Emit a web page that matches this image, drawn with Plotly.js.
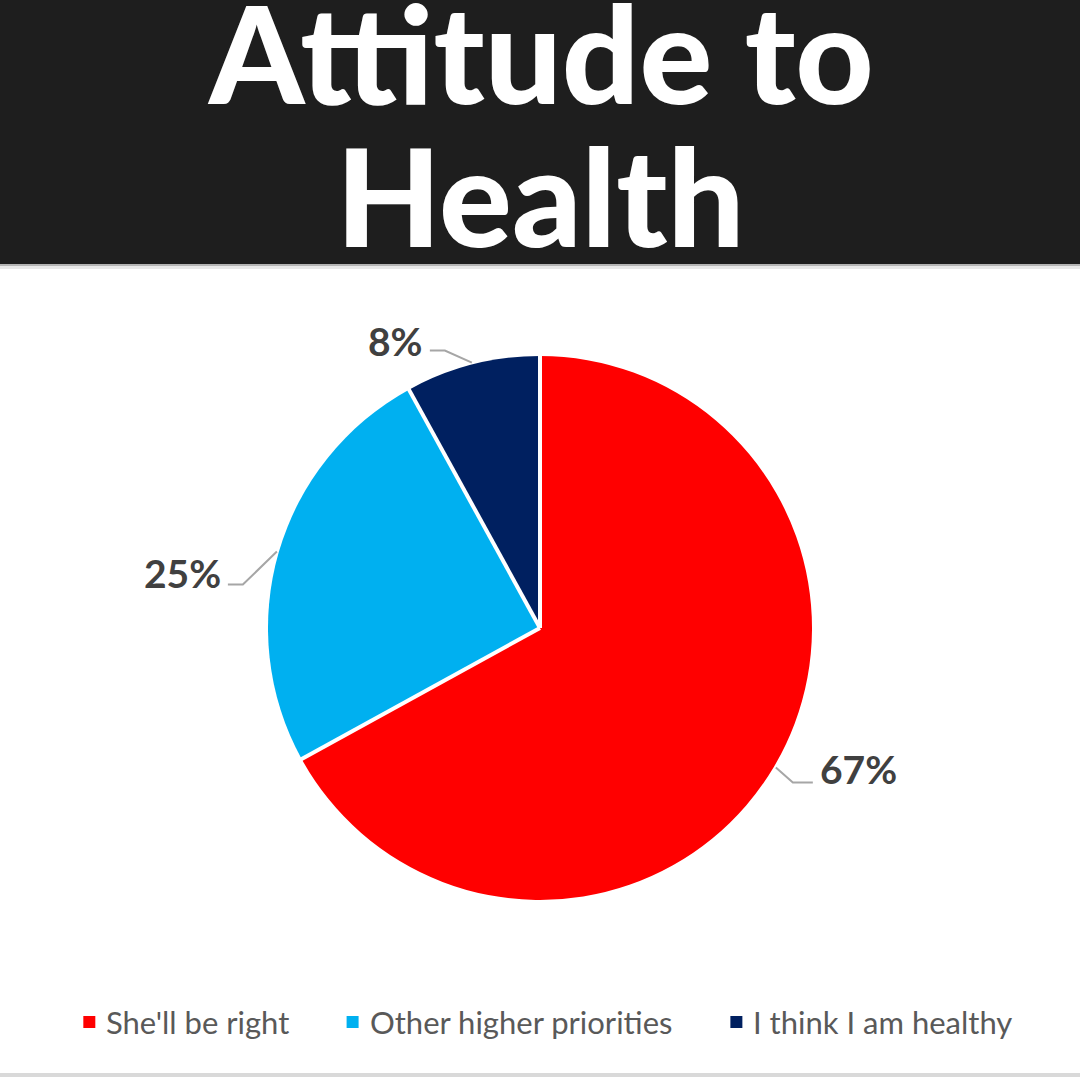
<!DOCTYPE html>
<html>
<head>
<meta charset="utf-8">
<script src="https://cdn.plot.ly/plotly-3.0.1.min.js"></script>
<style>
  html, body { margin: 0; padding: 0; background: #ffffff; }
  #chart { width: 1080px; height: 1077px; }
</style>
</head>
<body>
<div id="chart"></div>
<script>
// ---- data ----
var categories = ["She'll be right", "Other higher priorities", "I think I am healthy"];
var values = [67, 25, 8];
var colors = ["#ff0000", "#00b0f0", "#002060"];
var titleLines = ["Attitude to", "Health"];

// ---- layout constants ----
var W = 1080, H = 1077;
var CX = 540, CY = 628, R = 272;
var FONT = 'Lato, "Open Sans", sans-serif';
function px(x) { return x / W; }
function py(y) { return 1 - y / H; }

// leader-line styling per slice: elbow offset from slice edge, horizontal run
var leaderStyle = [
  { ex: 17, ey: 15, run: 20, tdy: -13 },
  { ex: -34, ey: 33, run: -15, tdy: -12 },
  { ex: -27, ey: -12, run: -15, tdy: -10 }
];

var total = values.reduce(function (a, b) { return a + b; }, 0);
var shapes = [
  { type: 'rect', xref: 'paper', yref: 'paper', x0: 0, x1: 1, y0: py(264), y1: 1, fillcolor: '#1e1e1e', line: { width: 0 }, layer: 'below' },
  { type: 'rect', xref: 'paper', yref: 'paper', x0: 0, x1: 1, y0: py(266), y1: py(264), fillcolor: '#b4b4b4', line: { width: 0 }, layer: 'below' },
  { type: 'rect', xref: 'paper', yref: 'paper', x0: 0, x1: 1, y0: py(269), y1: py(266), fillcolor: '#e8e8e8', line: { width: 0 }, layer: 'below' },
  { type: 'rect', xref: 'paper', yref: 'paper', x0: 0, x1: 1, y0: 0, y1: py(1073), fillcolor: '#d9d9d9', line: { width: 0 }, layer: 'below' }
];
var annotations = [];

// title lines
var titleFont = { family: FONT, size: 136, color: '#ffffff', weight: 900 };
var titleCenters = [52, 194];
titleLines.forEach(function (t, i) {
  annotations.push({
    text: t, xref: 'paper', yref: 'paper', x: 0.5, y: py(titleCenters[i]),
    xanchor: 'center', yanchor: 'middle', showarrow: false, font: titleFont
  });
});

// slice separators + data labels with leader lines, derived from slice angles
var cum = 0;
values.forEach(function (v, i) {
  var a0 = cum / total * 2 * Math.PI;
  shapes.push({
    type: 'line', xref: 'paper', yref: 'paper',
    x0: px(CX), y0: py(CY),
    x1: px(CX + (R + 2) * Math.sin(a0)), y1: py(CY - (R + 2) * Math.cos(a0)),
    line: { color: '#ffffff', width: 4 }
  });
  var mid = (cum + v / 2) / total * 2 * Math.PI; // clockwise from 12 o'clock
  cum += v;
  var sx = CX + (R + 2) * Math.sin(mid);
  var sy = CY - (R + 2) * Math.cos(mid);
  var st = leaderStyle[i];
  var ex = sx + st.ex, ey = sy + st.ey;
  var hx = ex + st.run;
  shapes.push({
    type: 'path', xref: 'paper', yref: 'paper',
    path: 'M' + px(sx) + ',' + py(sy) + ' L' + px(ex) + ',' + py(ey) + ' L' + px(hx) + ',' + py(ey),
    line: { color: '#a6a6a6', width: 2 }
  });
  var right = st.run > 0;
  annotations.push({
    text: '<b>' + Math.round(v / total * 100) + '%</b>',
    xref: 'paper', yref: 'paper',
    x: px(hx + (right ? 5 : -5)), y: py(ey + st.tdy),
    xanchor: right ? 'left' : 'right', yanchor: 'middle', showarrow: false,
    font: { family: FONT, size: 39, color: '#404040' }
  });
});

// legend (markers + labels), laid out from measured label widths
var LEG_SIZE = 31, LEG_Y = 1022, LEG_CX = 548, SYM = 12, SYM_TO_TEXT = 23, ITEM_GAP = 57;
var ctx = document.createElement('canvas').getContext('2d');
ctx.font = LEG_SIZE + 'px Lato, "Open Sans", sans-serif';
var widths = categories.map(function (c) { return ctx.measureText(c).width; });
var legW = widths.reduce(function (a, b) { return a + b; }, 0) + categories.length * SYM_TO_TEXT + (categories.length - 1) * ITEM_GAP;
var lx = LEG_CX - legW / 2;
categories.forEach(function (c, i) {
  shapes.push({
    type: 'rect', xref: 'paper', yref: 'paper',
    x0: px(lx), x1: px(lx + SYM), y0: py(LEG_Y + SYM / 2), y1: py(LEG_Y - SYM / 2),
    fillcolor: colors[i], line: { width: 0 }
  });
  annotations.push({
    text: c, xref: 'paper', yref: 'paper', x: px(lx + SYM_TO_TEXT - 2), y: py(LEG_Y),
    xanchor: 'left', yanchor: 'middle', showarrow: false,
    font: { family: FONT, size: LEG_SIZE, color: '#595959' }
  });
  lx += SYM_TO_TEXT + widths[i] + ITEM_GAP;
});

var trace = {
  type: 'pie',
  labels: categories,
  values: values,
  sort: false,
  direction: 'clockwise',
  rotation: 0,
  textinfo: 'none',
  hoverinfo: 'label+percent',
  marker: { colors: colors, line: { width: 0 } },
  domain: { x: [px(CX - R), px(CX + R)], y: [py(CY + R), py(CY - R)] },
  automargin: false,
  showlegend: false
};

var layout = {
  width: W, height: H,
  margin: { l: 0, r: 0, t: 0, b: 0 },
  paper_bgcolor: '#ffffff',
  showlegend: false,
  shapes: shapes,
  annotations: annotations
};

Plotly.newPlot('chart', [trace], layout, { displayModeBar: false, staticPlot: true });
</script>
</body>
</html>
